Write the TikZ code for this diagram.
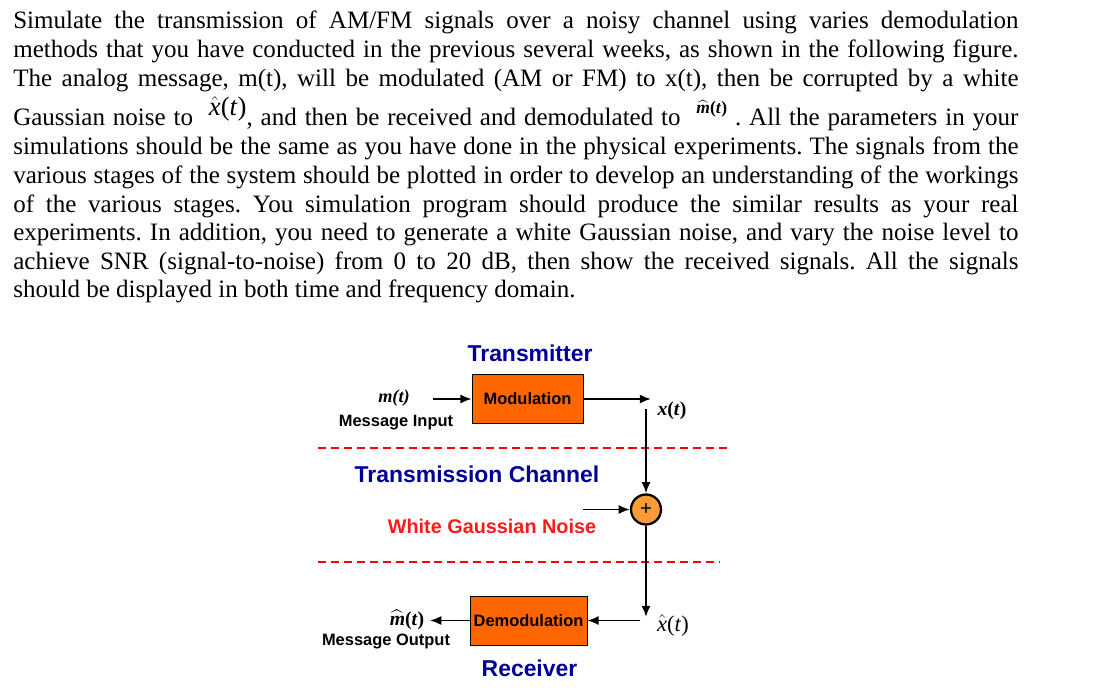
\documentclass[tikz,border=0pt]{standalone}
\usepackage{amsmath}
\usepackage{fontspec}
\setmainfont{Liberation Serif}
\setsansfont{Liberation Sans}
\usetikzlibrary{arrows.meta}
\usetikzlibrary{positioning}
\definecolor{boxorange}{RGB}{255,102,0}
\definecolor{sumorange}{RGB}{250,155,55}
\definecolor{titleblue}{RGB}{0,0,153}
\definecolor{noisered}{RGB}{255,25,25}
\frenchspacing
\newcommand{\parline}[1]{\makebox[25.125cm][s]{#1}}
\newcommand{\mhatsig}{$\widehat{\text{\bfseries\itshape m}}$\textbf{(\textit{t})}}
\newcommand{\xhatsig}{$\hat{\text{\itshape x}}$(\textit{t})}

\begin{document}
\begin{tikzpicture}[x=0.025cm,y=-0.025cm,every node/.style={inner sep=0pt},
  block/.style={draw,line width=0.5pt,fill=boxorange,minimum height=1.225cm,font=\sffamily\bfseries\fontsize{11.7}{14}\selectfont},
  title/.style={text=titleblue,font=\sffamily\bfseries\fontsize{16.3}{19}\selectfont},
  lbl/.style={font=\sffamily\bfseries\fontsize{11.7}{14}\selectfont},
  arr/.style={line width=1.4pt,-{Latex[length=8pt,width=6.5pt]}},
  divider/.style={red,line width=1.3pt,dash pattern=on 5.7pt off 3.5pt},
  txt/.style={anchor=base west,font=\fontsize{17.8}{21}\selectfont}]
\useasboundingbox (0,0) rectangle (1096,696);
\node[txt] (l1) at (13,29) {\parline{Simulate the transmission of AM/FM signals over a noisy channel using varies demodulation}};
\node[txt] (l2) at (13,58) {\parline{methods that you have conducted in the previous several weeks, as shown in the following figure.}};
\node[txt] (l3) at (13,86) {\parline{The analog message, m(t), will be modulated (AM or FM) to x(t), then be corrupted by a white}};
\node[txt] (l4) at (13,125) {\parline{Gaussian noise to \ \raisebox{7pt}{\fontsize{19}{21}\selectfont\xhatsig}, and then be received and demodulated to \ \raisebox{8pt}{\fontsize{12.5}{14}\selectfont\mhatsig} . All the parameters in your}};
\node[txt] (l5) at (13,154) {\parline{simulations should be the same as you have done in the physical experiments. The signals from the}};
\node[txt] (l6) at (13,183) {\parline{various stages of the system should be plotted in order to develop an understanding of the workings}};
\node[txt] (l7) at (13,212) {\parline{of the various stages. You simulation program should produce the similar results as your real}};
\node[txt] (l8) at (13,240) {\parline{experiments. In addition, you need to generate a white Gaussian noise, and vary the noise level to}};
\node[txt] (l9) at (13,269) {\parline{achieve SNR (signal-to-noise) from 0 to 20 dB, then show the received signals. All the signals}};
\node[txt] (l10) at (13,297) {should be displayed in both time and frequency domain.};
\node[title] (tx) at (530,353) {Transmitter};
\node[block,minimum width=2.775cm] (mod) at (527.5,399) {Modulation};
\node[font=\bfseries\itshape\fontsize{13}{15}\selectfont] (msig) at (394,398) {m(t)};
\node[lbl] (msgin) at (396,423) {Message Input};
\node[font=\fontsize{14}{16}\selectfont] (xsig) at (672,411) {\textbf{\textit{x}(\textit{t})}};
\node[title] (ch) at (477,474) {Transmission Channel};
\node[draw,circle,line width=1.6pt,fill=sumorange,minimum size=0.75cm,font=\bfseries\fontsize{15}{17}\selectfont] (sum) at (646,509.5) {+};
\node[text=noisered,font=\sffamily\bfseries\fontsize{14.1}{17}\selectfont] (wgn) at (492,526) {White Gaussian Noise};
\node[block,minimum width=2.925cm] (demod) at (528.5,620.5) {Demodulation};
\node[font=\fontsize{14}{16}\selectfont] (mhat) at (407,620) {\mhatsig};
\node[lbl] (msgout) at (386,641) {Message Output};
\node[font=\fontsize{16}{18}\selectfont] (xhat) at (673,625) {\xhatsig};
\node[title] (rx) at (529.5,668) {Receiver};
\coordinate (a) at (433,399);
\coordinate (xo) at (651,399);
\coordinate (xtop) at (646,409);
\coordinate (nin) at (583,509.5);
\coordinate (xbot) at (646,617);
\coordinate (rin) at (640,620.5);
\coordinate (mend) at (430,620.5);
\draw[divider] (318,448) -- (730,448);
\draw[divider] (318,562) -- (720,562);
\draw[arr] (a) -- (mod);
\draw[arr] (mod) -- (xo);
\draw[arr] (xtop) -- (sum);
\draw[arr] (nin) -- (sum);
\draw[arr] (sum) -- (xbot);
\draw[arr] (rin) -- (demod);
\draw[arr] (demod) -- (mend);
\end{tikzpicture}
\end{document}
